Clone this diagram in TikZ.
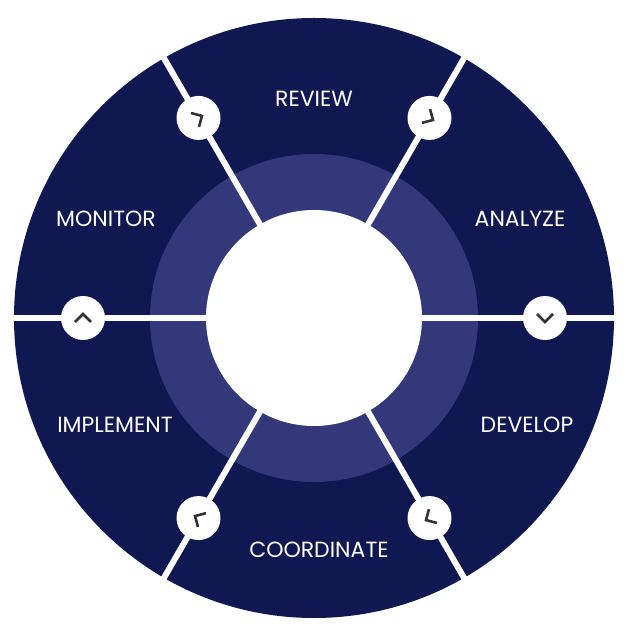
\documentclass[tikz,border=0pt]{standalone}
\usepackage{fontspec}
\setmainfont{Poppins}
\definecolor{navy}{HTML}{0F1850}
\definecolor{ringblue}{HTML}{33387A}
\tikzset{
  phase/.style={text=white, font=\fontsize{22}{26}\selectfont},
  chev/.style={line width=2.6pt, draw=black!80, line join=miter}
}
\begin{document}
\begin{tikzpicture}[x=1pt, y=1pt]
	\useasboundingbox (-314,-316) rectangle (314,318);
	\fill[navy] (0,0) circle[radius=300];
	\fill[ringblue] (0,0) circle[radius=164];
	\fill[white] (0,0) circle[radius=108];

    % separators between the phases
    \foreach \ang in {0, 60, 120, 180, 240, 300}
    	\draw[white, line width=6pt] (0,0) -- (\ang:305);

    % direction markers
    \foreach \ang in {0, 60, 120, 180, 240, 300} {
    	\fill[white] (\ang:231) circle[radius=22];
    	\draw[chev, shift={(\ang:231)}, rotate=\ang-90] (-4,8) -- (4,0) -- (-4,-8);
    }

    \node[phase] (review) at (0,219) {REVIEW};
    \node[phase] (analyze) at (206,99) {ANALYZE};
    \node[phase] (develop) at (213,-107) {DEVELOP};
    \node[phase] (coordinate) at (5,-232) {COORDINATE};
    \node[phase] (implement) at (-199,-107) {IMPLEMENT};
    \node[phase] (monitor) at (-208,99) {MONITOR};
\end{tikzpicture}
\end{document}
